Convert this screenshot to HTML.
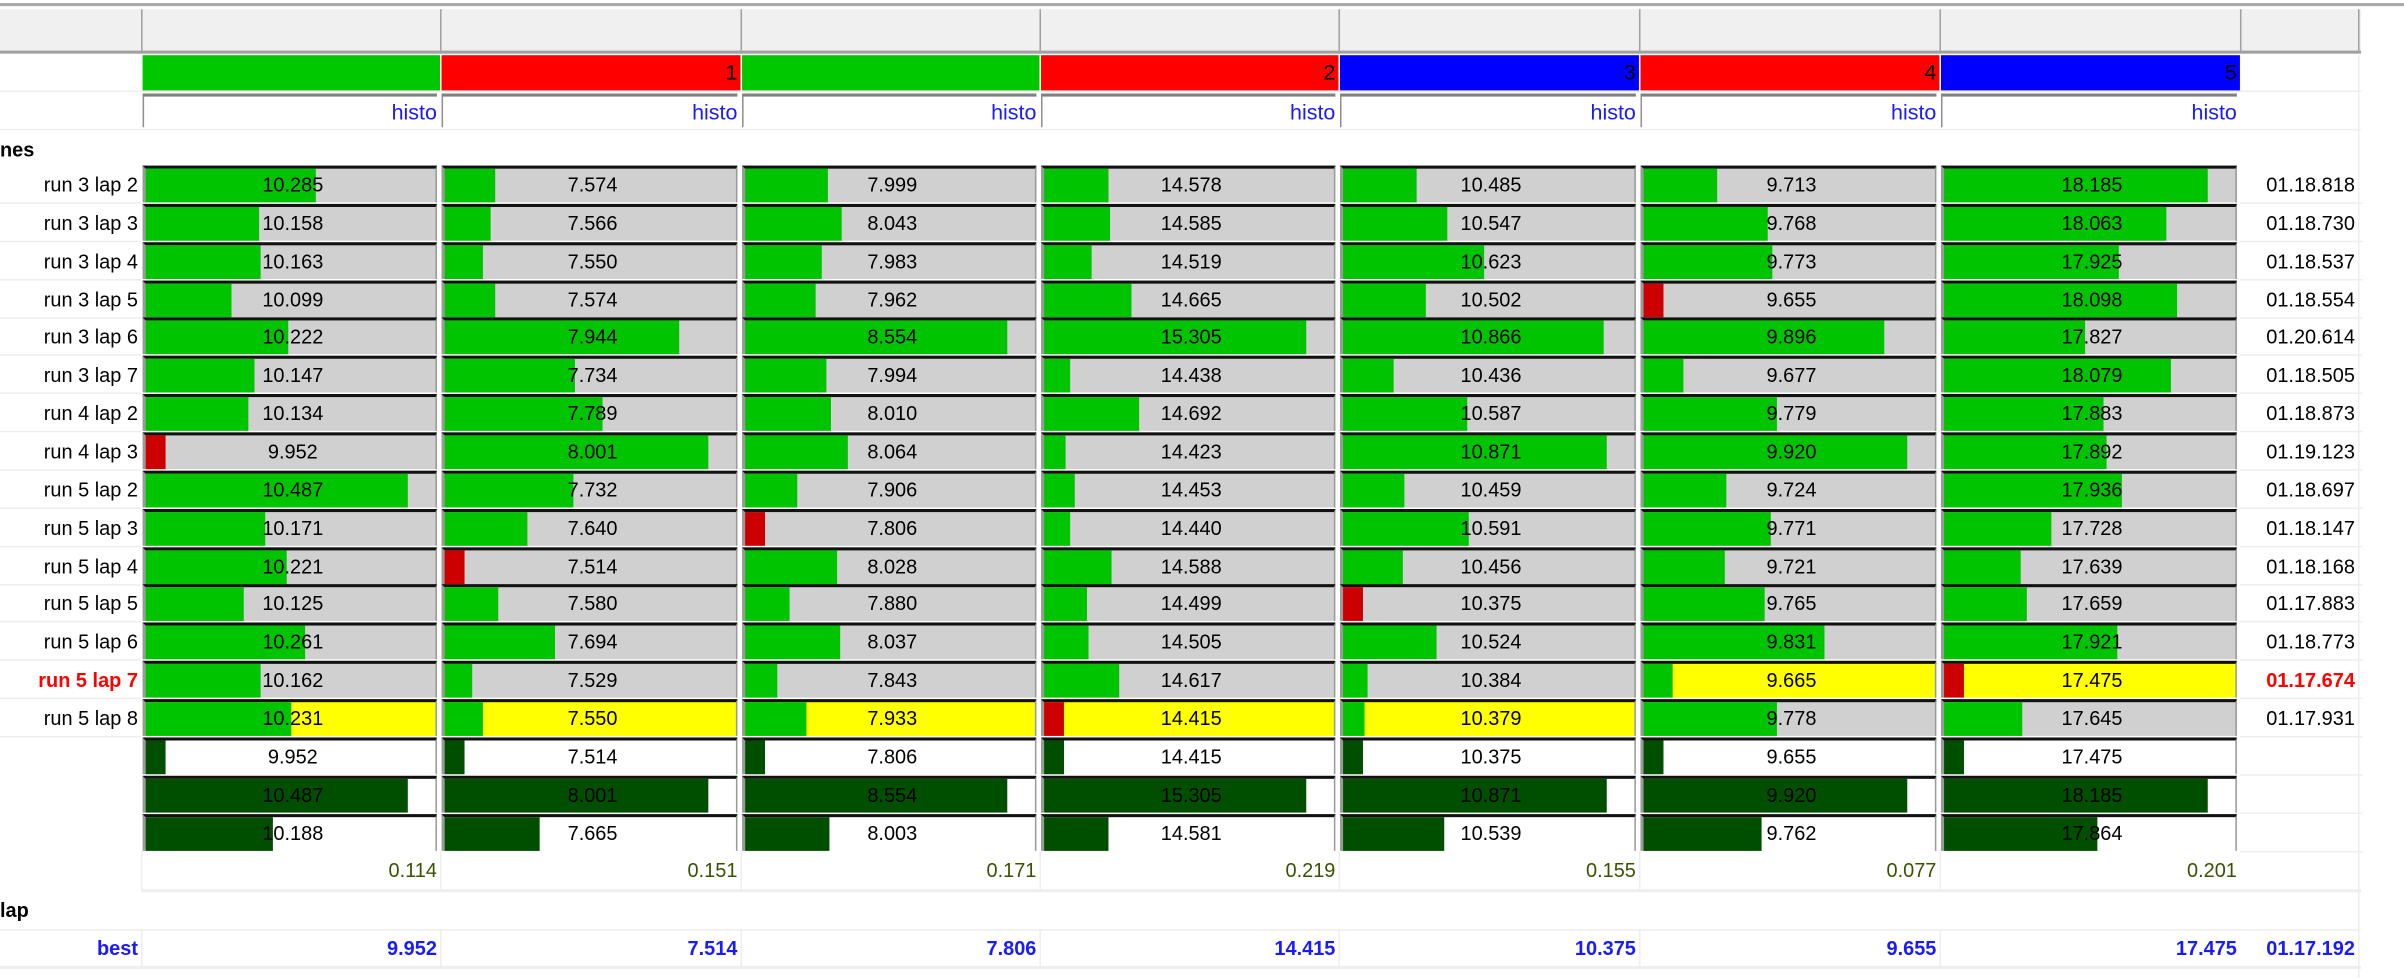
<!DOCTYPE html>
<html><head><meta charset="utf-8">
<style>
html,body{margin:0;padding:0;background:#fff;overflow:hidden;width:2404px;height:978px}
#w{position:absolute;left:0;top:0;width:1568px;height:638px;transform:scale(1.53316);transform-origin:0 0;font-family:"Liberation Sans",sans-serif;font-size:13px;color:#000}
#w div{position:absolute;box-sizing:border-box}
.t{white-space:nowrap;line-height:23px}
</style></head><body><div id="w"></div>
<script>
var W=document.getElementById('w');
function d(x,y,w,h,st,txt){var e=document.createElement('div');e.style.cssText='left:'+x+'px;top:'+y+'px;width:'+w+'px;height:'+h+'px;'+(st||'');if(txt!==undefined){e.className='t';e.textContent=txt;}W.appendChild(e);return e;}
var cx=[92,287,483,678,873,1069,1265,1461];
// top line
d(0,2,1568,2,'background:#a8a8a8');
d(0,6,1540,28,'background:#f0f0f0');
d(0,33,1540,2,'background:#a0a0a0');
for(var i=0;i<cx.length;i++)d(cx[i],6,1,27,'background:#a0a0a0');
d(1538,6,1,27,'background:#a0a0a0');
var hc=['#00c800','#ff0000','#00c800','#ff0000','#0000ff','#ff0000','#0000ff'];
var hn=['','1','','2','3','4','5'];
for(var i=0;i<7;i++){
 d(cx[i]+1,36,cx[i+1]-cx[i]-1,23,'background:'+hc[i]+';text-align:right;padding-right:2px;line-height:23px;font-size:14px',hn[i]).className='t';
 d(cx[i]+1,61,cx[i+1]-cx[i]-3,22,'background:#fff;border-top:2px solid #808080;border-left:1px solid #909090;color:#1a1aff;text-align:right;line-height:20px;font-size:14px','histo').className='t';
}
d(0,59,1540,1,'background:#eee');d(0,84,1540,1,'background:#eee');
d(0,87,60,22,'font-weight:bold;line-height:22px','nes');
var labels=['run 3 lap 2','run 3 lap 3','run 3 lap 4','run 3 lap 5','run 3 lap 6','run 3 lap 7','run 4 lap 2','run 4 lap 3','run 5 lap 2','run 5 lap 3','run 5 lap 4','run 5 lap 5','run 5 lap 6','run 5 lap 7','run 5 lap 8'];
var V=[
[10.285,7.574,7.999,14.578,10.485,9.713,18.185,'01.18.818'],
[10.158,7.566,8.043,14.585,10.547,9.768,18.063,'01.18.730'],
[10.163,7.550,7.983,14.519,10.623,9.773,17.925,'01.18.537'],
[10.099,7.574,7.962,14.665,10.502,9.655,18.098,'01.18.554'],
[10.222,7.944,8.554,15.305,10.866,9.896,17.827,'01.20.614'],
[10.147,7.734,7.994,14.438,10.436,9.677,18.079,'01.18.505'],
[10.134,7.789,8.010,14.692,10.587,9.779,17.883,'01.18.873'],
[9.952,8.001,8.064,14.423,10.871,9.920,17.892,'01.19.123'],
[10.487,7.732,7.906,14.453,10.459,9.724,17.936,'01.18.697'],
[10.171,7.640,7.806,14.440,10.591,9.771,17.728,'01.18.147'],
[10.221,7.514,8.028,14.588,10.456,9.721,17.639,'01.18.168'],
[10.125,7.580,7.880,14.499,10.375,9.765,17.659,'01.17.883'],
[10.261,7.694,8.037,14.505,10.524,9.831,17.921,'01.18.773'],
[10.162,7.529,7.843,14.617,10.384,9.665,17.475,'01.17.674'],
[10.231,7.550,7.933,14.415,10.379,9.778,17.645,'01.17.931']];
var mn=[9.952,7.514,7.806,14.415,10.375,9.655,17.475],mx=[10.487,8.001,8.554,15.305,10.871,9.920,18.185],av=[10.188,7.665,8.003,14.581,10.539,9.762,17.864],df=['0.114','0.151','0.171','0.219','0.155','0.077','0.201'],best=['9.952','7.514','7.806','14.415','10.375','9.655','17.475'];
var P=24.86,Y0=108;
function cell(c,r,v,bg,bar){
 var x=cx[c]+1,w=cx[c+1]-cx[c]-3,y=Y0+r*P;
 var b=d(x,y,w,24,'background:'+bg+';border-top:2px solid #111;border-left:2px solid #9a9a9a;border-right:1px solid #9a9a9a');
 var inner=w-3;
 var bw=13+(v-mn[c])/(mx[c]-mn[c])*158*(inner/189);
 d(x+2,y+2,bw,22,'background:'+bar);
 d(x,y+1,w,23,'text-align:center;padding-left:4px',v.toFixed(3));
}
var yel={'13_5':1,'13_6':1,'14_0':1,'14_1':1,'14_2':1,'14_3':1,'14_4':1};
for(var r=0;r<15;r++){
 var y=Y0+r*P;var red=(r==13);
 d(0,y+1,91,23,'text-align:right;padding-right:1px;'+(red?'color:#ff0000;font-weight:bold':''),labels[r]);
 d(0,y+24,92,1,'background:#eee');d(1461,y+24,80,1,'background:#eee');
 for(var c=0;c<7;c++){var v=V[r][c];cell(c,r,v,yel[r+'_'+c]?'#ffff00':'#d0d0d0',v==mn[c]?'#cc0000':'#00c400');}
 d(1461,y+1,77,23,'text-align:right;padding-right:2px;'+(red?'color:#ff0000;font-weight:bold':''),V[r][7]);
}
var rows=[mn,mx,av];
for(var k=0;k<3;k++){for(var c=0;c<7;c++)cell(c,15+k,rows[k][c],'#fff','#004f00');d(1461,Y0+(15+k)*P+24,80,1,'background:#eee');}
var yd=Y0+18*P;
for(var c=0;c<7;c++){d(cx[c]+1,yd+1,cx[c+1]-cx[c]-1,23,'text-align:right;padding-right:2px;color:#3a5200',df[c]);d(cx[c],yd,1,25,'background:#eee');}
d(92,yd+25,1448,2,'background:#eee');
d(0,583,60,22,'font-weight:bold;line-height:22px','lap');
d(0,606,1540,1,'background:#eee');
d(0,607,91,23,'text-align:right;padding-right:1px;color:#1a1aff;font-weight:bold','best');
for(var c=0;c<7;c++){d(cx[c]+1,607,cx[c+1]-cx[c]-1,23,'text-align:right;padding-right:2px;color:#1a1aff;font-weight:bold',best[c]);d(cx[c],606,1,25,'background:#eee');}
d(1461,607,77,23,'text-align:right;padding-right:2px;color:#1a1aff;font-weight:bold','01.17.192');
d(0,630,1540,2,'background:#eee');
d(1538,36,1,602,'background:#eee');
</script></body></html>
